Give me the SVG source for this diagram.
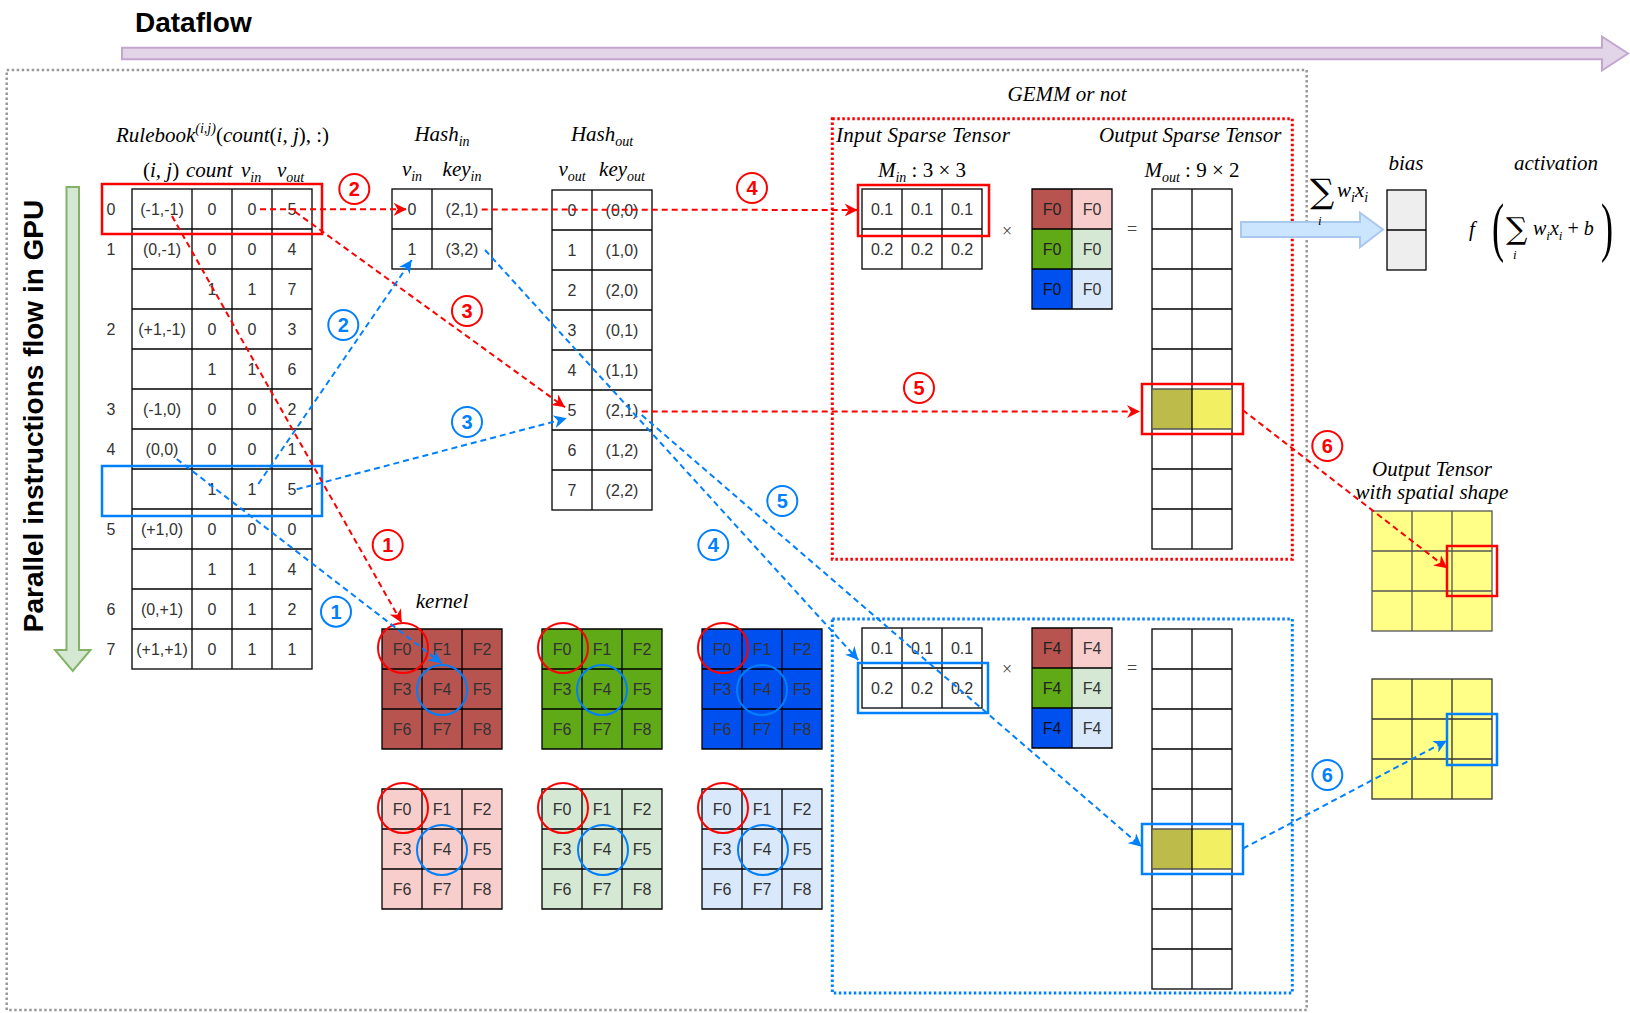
<svg xmlns="http://www.w3.org/2000/svg" width="1630" height="1013" viewBox="0 0 1630 1013">
<style>
.t{font-family:'Liberation Sans',Arial,sans-serif;font-size:16px;fill:#333;text-anchor:middle;dominant-baseline:central}
.m{font-family:'Liberation Serif','DejaVu Serif',serif;font-style:italic;font-size:21px;fill:#000}
.mc{font-family:'Liberation Serif','DejaVu Serif',serif;font-style:italic;font-size:21px;fill:#000;text-anchor:middle}
.g{fill:none;stroke:#000;stroke-width:1.3}
.rr{fill:none;stroke:#ff0000;stroke-width:2.5}
.br{fill:none;stroke:#007fff;stroke-width:2.5}
.rc{fill:none;stroke:#ff0000;stroke-width:2}
.bc{fill:none;stroke:#007fff;stroke-width:2}
.rl{fill:#fff;stroke:#ff0000;stroke-width:2}
.bl{fill:#fff;stroke:#007fff;stroke-width:2}
.rt{font-family:'Liberation Sans',Arial,sans-serif;font-weight:bold;font-size:20px;fill:#ff0000;text-anchor:middle;dominant-baseline:central}
.bt{font-family:'Liberation Sans',Arial,sans-serif;font-weight:bold;font-size:20px;fill:#007fff;text-anchor:middle;dominant-baseline:central}
.rd{fill:none;stroke:#ff0000;stroke-width:2;stroke-dasharray:6 4}
.bd{fill:none;stroke:#007fff;stroke-width:2;stroke-dasharray:6 4}
.op{font-family:'Liberation Serif','DejaVu Serif',serif;font-size:18px;fill:#444;text-anchor:middle;dominant-baseline:central}
.s{font-size:14px}
.sig{font-family:'DejaVu Serif',serif}
.mi{font-family:'Liberation Serif',serif;font-style:italic}
.mr{font-family:'Liberation Serif',serif;font-style:normal}
</style>
<defs>
<marker id="ra" viewBox="0 0 10 10" refX="10" refY="5" markerWidth="13" markerHeight="13" markerUnits="userSpaceOnUse" orient="auto"><path d="M0,0 L10,5 L0,10 L3,5 z" fill="#ff0000"/></marker>
<marker id="ba" viewBox="0 0 10 10" refX="10" refY="5" markerWidth="13" markerHeight="13" markerUnits="userSpaceOnUse" orient="auto"><path d="M0,0 L10,5 L0,10 L3,5 z" fill="#007fff"/></marker>
</defs>
<rect width="1630" height="1013" fill="#fff"/>

<g id="dataflow">
<text x="135" y="32" font-family="'Liberation Sans',Arial,sans-serif" font-weight="bold" font-size="28">Dataflow</text>
<polygon points="122,47.7 1602,47.7 1602,36.5 1628,53.5 1602,70.5 1602,59.3 122,59.3" fill="#e1d5e7" stroke="#c3a6d0" stroke-width="2"/>
</g>

<rect id="gpu-box" x="6.7" y="70" width="1300" height="940" fill="none" stroke="#999" stroke-width="2.5" stroke-dasharray="2.5 2.5"/>

<g id="parallel">
<polygon points="66.5,187 79,187 79,650 90.5,650 72.75,671 55,650 66.5,650" fill="#d5e8d4" stroke="#82b366" stroke-width="2"/>
<text transform="translate(43,416) rotate(-90)" text-anchor="middle" font-family="'Liberation Sans',Arial,sans-serif" font-weight="bold" font-size="28">Parallel instructions flow in GPU</text>
</g>

<g id="rulebook">
<text class="m" x="116" y="142">Rulebook<tspan class="s" dy="-9">(i,j)</tspan><tspan dy="9" font-style="normal">(</tspan>count<tspan font-style="normal">(</tspan>i, j<tspan font-style="normal">), :)</tspan></text>
<text class="m" x="143" y="177"><tspan font-style="normal">(</tspan>i, j<tspan font-style="normal">)</tspan></text>
<text class="m" x="186" y="177">count</text>
<text class="m" x="241" y="177">v<tspan class="s" dy="5">in</tspan></text>
<text class="m" x="277" y="177">v<tspan class="s" dy="5">out</tspan></text>
<rect class="g" x="132" y="189" width="180" height="480" fill="#fff"/>
<path class="g" d="M192,189V669M232,189V669M272,189V669M132,229H312M132,269H312M132,309H312M132,349H312M132,389H312M132,429H312M132,469H312M132,509H312M132,549H312M132,589H312M132,629H312"/>
<g class="t">
<text x="111" y="209">0</text><text x="162" y="209">(-1,-1)</text><text x="212" y="209">0</text><text x="252" y="209">0</text><text x="292" y="209">5</text>
<text x="111" y="249">1</text><text x="162" y="249">(0,-1)</text><text x="212" y="249">0</text><text x="252" y="249">0</text><text x="292" y="249">4</text>
<text x="212" y="289">1</text><text x="252" y="289">1</text><text x="292" y="289">7</text>
<text x="111" y="329">2</text><text x="162" y="329">(+1,-1)</text><text x="212" y="329">0</text><text x="252" y="329">0</text><text x="292" y="329">3</text>
<text x="212" y="369">1</text><text x="252" y="369">1</text><text x="292" y="369">6</text>
<text x="111" y="409">3</text><text x="162" y="409">(-1,0)</text><text x="212" y="409">0</text><text x="252" y="409">0</text><text x="292" y="409">2</text>
<text x="111" y="449">4</text><text x="162" y="449">(0,0)</text><text x="212" y="449">0</text><text x="252" y="449">0</text><text x="292" y="449">1</text>
<text x="212" y="489">1</text><text x="252" y="489">1</text><text x="292" y="489">5</text>
<text x="111" y="529">5</text><text x="162" y="529">(+1,0)</text><text x="212" y="529">0</text><text x="252" y="529">0</text><text x="292" y="529">0</text>
<text x="212" y="569">1</text><text x="252" y="569">1</text><text x="292" y="569">4</text>
<text x="111" y="609">6</text><text x="162" y="609">(0,+1)</text><text x="212" y="609">0</text><text x="252" y="609">1</text><text x="292" y="609">2</text>
<text x="111" y="649">7</text><text x="162" y="649">(+1,+1)</text><text x="212" y="649">0</text><text x="252" y="649">1</text><text x="292" y="649">1</text>
</g>
<rect class="rr" x="102" y="184" width="220" height="50"/>
<rect class="br" x="102" y="466" width="220" height="50"/>
</g>

<g id="hash-in">
<text class="mc" x="442" y="141">Hash<tspan class="s" dy="5">in</tspan></text>
<text class="mc" x="412" y="176">v<tspan class="s" dy="5">in</tspan></text>
<text class="mc" x="462" y="176">key<tspan class="s" dy="5">in</tspan></text>
<rect class="g" x="392" y="189" width="100" height="80" fill="#fff"/>
<path class="g" d="M432,189V269M392,229H492"/>
<g class="t"><text x="412" y="209">0</text><text x="462" y="209">(2,1)</text><text x="412" y="249">1</text><text x="462" y="249">(3,2)</text></g>
</g>

<g id="hash-out">
<text class="mc" x="602" y="141">Hash<tspan class="s" dy="5">out</tspan></text>
<text class="mc" x="572" y="176">v<tspan class="s" dy="5">out</tspan></text>
<text class="mc" x="622" y="176">key<tspan class="s" dy="5">out</tspan></text>
<rect class="g" x="552" y="190" width="100" height="320" fill="#fff"/>
<path class="g" d="M592,190V510M552,230H652M552,270H652M552,310H652M552,350H652M552,390H652M552,430H652M552,470H652"/>
<g class="t">
<text x="572" y="210">0</text><text x="622" y="210">(0,0)</text>
<text x="572" y="250">1</text><text x="622" y="250">(1,0)</text>
<text x="572" y="290">2</text><text x="622" y="290">(2,0)</text>
<text x="572" y="330">3</text><text x="622" y="330">(0,1)</text>
<text x="572" y="370">4</text><text x="622" y="370">(1,1)</text>
<text x="572" y="410">5</text><text x="622" y="410">(2,1)</text>
<text x="572" y="450">6</text><text x="622" y="450">(1,2)</text>
<text x="572" y="490">7</text><text x="622" y="490">(2,2)</text>
</g>
</g>

<g id="kernels">
<text class="mc" x="442" y="608">kernel</text>
<g id="k-red">
<rect x="382" y="629" width="120" height="120" fill="#b85450"/>
<path class="g" d="M382,629h120v120h-120zM422,629V749M462,629V749M382,669H502M382,709H502"/>
<g class="t" fill="#222"><text x="402" y="649">F0</text><text x="442" y="649">F1</text><text x="482" y="649">F2</text><text x="402" y="689">F3</text><text x="442" y="689">F4</text><text x="482" y="689">F5</text><text x="402" y="729">F6</text><text x="442" y="729">F7</text><text x="482" y="729">F8</text></g>
<circle class="rc" cx="403" cy="648" r="25"/><circle class="bc" cx="442" cy="690" r="25"/>
</g>
<g id="k-green">
<rect x="542" y="629" width="120" height="120" fill="#60a917"/>
<path class="g" d="M542,629h120v120h-120zM582,629V749M622,629V749M542,669H662M542,709H662"/>
<g class="t" fill="#222"><text x="562" y="649">F0</text><text x="602" y="649">F1</text><text x="642" y="649">F2</text><text x="562" y="689">F3</text><text x="602" y="689">F4</text><text x="642" y="689">F5</text><text x="562" y="729">F6</text><text x="602" y="729">F7</text><text x="642" y="729">F8</text></g>
<circle class="rc" cx="563" cy="648" r="25"/><circle class="bc" cx="602" cy="690" r="25"/>
</g>
<g id="k-blue">
<rect x="702" y="629" width="120" height="120" fill="#0050ef"/>
<path class="g" d="M702,629h120v120h-120zM742,629V749M782,629V749M702,669H822M702,709H822"/>
<g class="t" fill="#111"><text x="722" y="649">F0</text><text x="762" y="649">F1</text><text x="802" y="649">F2</text><text x="722" y="689">F3</text><text x="762" y="689">F4</text><text x="802" y="689">F5</text><text x="722" y="729">F6</text><text x="762" y="729">F7</text><text x="802" y="729">F8</text></g>
<circle class="rc" cx="723" cy="648" r="25"/><circle class="bc" cx="762" cy="690" r="25"/>
</g>
<g id="k-lightred">
<rect x="382" y="789" width="120" height="120" fill="#f8cecc"/>
<path class="g" d="M382,789h120v120h-120zM422,789V909M462,789V909M382,829H502M382,869H502"/>
<g class="t"><text x="402" y="809">F0</text><text x="442" y="809">F1</text><text x="482" y="809">F2</text><text x="402" y="849">F3</text><text x="442" y="849">F4</text><text x="482" y="849">F5</text><text x="402" y="889">F6</text><text x="442" y="889">F7</text><text x="482" y="889">F8</text></g>
<circle class="rc" cx="403" cy="808" r="25"/><circle class="bc" cx="442" cy="850" r="25"/>
</g>
<g id="k-lightgreen">
<rect x="542" y="789" width="120" height="120" fill="#d5e8d4"/>
<path class="g" d="M542,789h120v120h-120zM582,789V909M622,789V909M542,829H662M542,869H662"/>
<g class="t"><text x="562" y="809">F0</text><text x="602" y="809">F1</text><text x="642" y="809">F2</text><text x="562" y="849">F3</text><text x="602" y="849">F4</text><text x="642" y="849">F5</text><text x="562" y="889">F6</text><text x="602" y="889">F7</text><text x="642" y="889">F8</text></g>
<circle class="rc" cx="563" cy="808" r="25"/><circle class="bc" cx="603" cy="850" r="25"/>
</g>
<g id="k-lightblue">
<rect x="702" y="789" width="120" height="120" fill="#dae8fc"/>
<path class="g" d="M702,789h120v120h-120zM742,789V909M782,789V909M702,829H822M702,869H822"/>
<g class="t"><text x="722" y="809">F0</text><text x="762" y="809">F1</text><text x="802" y="809">F2</text><text x="722" y="849">F3</text><text x="762" y="849">F4</text><text x="802" y="849">F5</text><text x="722" y="889">F6</text><text x="762" y="889">F7</text><text x="802" y="889">F8</text></g>
<circle class="rc" cx="723" cy="808" r="25"/><circle class="bc" cx="763" cy="850" r="25"/>
</g>
</g>

<g id="gemm-top">
<text class="mc" x="1067" y="101">GEMM or not</text>
<rect x="832.3" y="118.7" width="460" height="440.6" fill="none" stroke="#ff0000" stroke-width="3" stroke-dasharray="2.5 2.5"/>
<text class="m" x="836" y="142" letter-spacing="0.3">Input Sparse Tensor</text>
<text class="m" x="1099" y="142">Output Sparse Tensor</text>
<text class="mc" x="922" y="177">M<tspan class="s" dy="5">in</tspan><tspan dy="-5" font-style="normal"> : 3 × 3</tspan></text>
<text class="mc" x="1192" y="177">M<tspan class="s" dy="5">out</tspan><tspan dy="-5" font-style="normal"> : 9 × 2</tspan></text>
<g id="min-top">
<rect class="g" x="862" y="189" width="120" height="80" fill="#fff"/>
<path class="g" d="M902,189V269M942,189V269M862,229H982"/>
<g class="t"><text x="882" y="209">0.1</text><text x="922" y="209">0.1</text><text x="962" y="209">0.1</text><text x="882" y="249">0.2</text><text x="922" y="249">0.2</text><text x="962" y="249">0.2</text></g>
<rect class="rr" x="858" y="185" width="131" height="51"/>
</g>
<text class="op" x="1007" y="231">×</text>
<g id="f-top">
<rect x="1032" y="189" width="40" height="40" fill="#b85450"/><rect x="1072" y="189" width="40" height="40" fill="#f8cecc"/>
<rect x="1032" y="229" width="40" height="40" fill="#60a917"/><rect x="1072" y="229" width="40" height="40" fill="#d5e8d4"/>
<rect x="1032" y="269" width="40" height="40" fill="#0050ef"/><rect x="1072" y="269" width="40" height="40" fill="#dae8fc"/>
<path class="g" d="M1032,189h80v120h-80zM1072,189V309M1032,229H1112M1032,269H1112"/>
<g class="t"><text x="1052" y="209" fill="#222">F0</text><text x="1092" y="209">F0</text><text x="1052" y="249" fill="#222">F0</text><text x="1092" y="249">F0</text><text x="1052" y="289" fill="#111">F0</text><text x="1092" y="289">F0</text></g>
</g>
<text class="op" x="1132" y="229">=</text>
<g id="mout-top">
<rect class="g" x="1152" y="189" width="80" height="360" fill="#fff"/>
<rect x="1152" y="389" width="40" height="40" fill="#bdbb4a"/><rect x="1192" y="389" width="40" height="40" fill="#f2f062"/>
<path d="M1152,389h80v40h-80z" fill="none" stroke="#555" stroke-width="1.3"/>
<path class="g" d="M1192,189V549M1152,229H1232M1152,269H1232M1152,309H1232M1152,349H1232M1152,469H1232M1152,509H1232"/>
<rect class="rr" x="1142" y="384" width="101" height="50"/>
</g>
</g>

<g id="gemm-bottom">
<rect x="832.3" y="619" width="460" height="374" fill="none" stroke="#007fff" stroke-width="3" stroke-dasharray="2.5 2.5"/>
<g id="min-bottom">
<rect class="g" x="862" y="628" width="120" height="80" fill="#fff"/>
<path class="g" d="M902,628V708M942,628V708M862,668H982"/>
<g class="t"><text x="882" y="648">0.1</text><text x="922" y="648">0.1</text><text x="962" y="648">0.1</text><text x="882" y="688">0.2</text><text x="922" y="688">0.2</text><text x="962" y="688">0.2</text></g>
<rect class="br" x="858" y="663" width="130" height="50"/>
</g>
<text class="op" x="1007" y="669">×</text>
<g id="f-bottom">
<rect x="1032" y="628" width="40" height="40" fill="#b85450"/><rect x="1072" y="628" width="40" height="40" fill="#f8cecc"/>
<rect x="1032" y="668" width="40" height="40" fill="#60a917"/><rect x="1072" y="668" width="40" height="40" fill="#d5e8d4"/>
<rect x="1032" y="708" width="40" height="40" fill="#0050ef"/><rect x="1072" y="708" width="40" height="40" fill="#dae8fc"/>
<path class="g" d="M1032,628h80v120h-80zM1072,628V748M1032,668H1112M1032,708H1112"/>
<g class="t"><text x="1052" y="648" fill="#222">F4</text><text x="1092" y="648">F4</text><text x="1052" y="688" fill="#222">F4</text><text x="1092" y="688">F4</text><text x="1052" y="728" fill="#111">F4</text><text x="1092" y="728">F4</text></g>
</g>
<text class="op" x="1132" y="668">=</text>
<g id="mout-bottom">
<rect class="g" x="1152" y="629" width="80" height="360" fill="#fff"/>
<rect x="1152" y="829" width="40" height="40" fill="#bdbb4a"/><rect x="1192" y="829" width="40" height="40" fill="#f2f062"/>
<path d="M1152,829h80v40h-80z" fill="none" stroke="#555" stroke-width="1.3"/>
<path class="g" d="M1192,629V989M1152,669H1232M1152,709H1232M1152,749H1232M1152,789H1232M1152,909H1232M1152,949H1232"/>
<rect class="br" x="1142" y="824" width="101" height="50"/>
</g>
</g>

<g id="sum-arrow">
<polygon points="1241,222 1360,222 1360,212.7 1383,229.5 1360,247.3 1360,237 1241,237" fill="#cce5ff" stroke="#a9c8ef" stroke-width="2"/>
<text class="sig" x="1310" y="203" font-size="34">∑<tspan class="mi" font-size="13" x="1318" y="225">i</tspan><tspan class="mi" font-size="21" x="1337" y="197">w</tspan><tspan class="mi" font-size="14" dy="5">i</tspan><tspan class="mi" font-size="21" dy="-5">x</tspan><tspan class="mi" font-size="14" dy="5">i</tspan></text>
</g>

<g id="bias">
<text class="mc" x="1406" y="170">bias</text>
<rect x="1387" y="190" width="39" height="80" fill="#eeeeee" stroke="#000" stroke-width="1.3"/>
<path class="g" d="M1387,230H1426"/>
</g>

<g id="activation">
<text class="mc" x="1556" y="170">activation</text>
<text class="m" x="1469" y="236">f</text>
<text transform="translate(1492,249) scale(0.55,1)" font-family="'Liberation Serif',serif" font-size="66">(</text>
<text class="sig" x="1506" y="239" font-size="30">∑<tspan class="mi" font-size="13" x="1513" y="259">i</tspan><tspan class="mi" font-size="20" x="1533" y="235">w</tspan><tspan class="mi" font-size="13" dy="5">i</tspan><tspan class="mi" font-size="20" dy="-5">x</tspan><tspan class="mi" font-size="13" dy="5">i</tspan><tspan class="mr" font-size="20" dy="-5"> + </tspan><tspan class="mi" font-size="20">b</tspan></text>
<text transform="translate(1601,249) scale(0.55,1)" font-family="'Liberation Serif',serif" font-size="66">)</text>
</g>

<g id="output-tensor">
<text class="mc" x="1432" y="476">Output Tensor</text>
<text class="mc" x="1432" y="499">with spatial shape</text>
<rect x="1372" y="511" width="120" height="120" fill="#ffff88" stroke="#555" stroke-width="1.3"/>
<path d="M1412,511V631M1452,511V631M1372,551H1492M1372,591H1492" fill="none" stroke="#555" stroke-width="1.3"/>
<rect class="rr" x="1447" y="546" width="50" height="50"/>
<rect x="1372" y="679" width="120" height="120" fill="#ffff88" stroke="#333" stroke-width="1.3"/>
<path d="M1412,679V799M1452,679V799M1372,719H1492M1372,759H1492" fill="none" stroke="#333" stroke-width="1.3"/>
<rect class="br" x="1447" y="714" width="50" height="51"/>
</g>

<g id="connectors">
<line class="rd" x1="172" y1="216" x2="401.7" y2="622.7" marker-end="url(#ra)"/>
<line class="rd" x1="260" y1="209.3" x2="406.7" y2="209.3" marker-end="url(#ra)"/>
<line class="rd" x1="295" y1="211.7" x2="565" y2="407.3" marker-end="url(#ra)"/>
<line class="rd" x1="481.7" y1="209.5" x2="857.7" y2="210" marker-end="url(#ra)"/>
<line class="rd" x1="641.7" y1="411.5" x2="1140" y2="411.5" marker-end="url(#ra)"/>
<line class="rd" x1="1242.7" y1="410" x2="1447.3" y2="568.3" marker-end="url(#ra)"/>
<line class="bd" x1="176.7" y1="459" x2="441.7" y2="663.3" marker-end="url(#ba)"/>
<line class="bd" x1="258.3" y1="484" x2="411.7" y2="260" marker-end="url(#ba)"/>
<line class="bd" x1="296.7" y1="489.3" x2="566.7" y2="418.3" marker-end="url(#ba)"/>
<line class="bd" x1="485" y1="250" x2="858.3" y2="660" marker-end="url(#ba)"/>
<line class="bd" x1="641.7" y1="415" x2="1141.7" y2="846.7" marker-end="url(#ba)"/>
<line class="bd" x1="1243" y1="848.5" x2="1446.7" y2="740.7" marker-end="url(#ba)"/>
</g>

<g id="step-labels">
<circle class="rl" cx="387.7" cy="545" r="15"/><text class="rt" x="387.7" y="545">1</text>
<circle class="rl" cx="354.3" cy="189" r="15"/><text class="rt" x="354.3" y="189">2</text>
<circle class="rl" cx="467" cy="311" r="15"/><text class="rt" x="467" y="311">3</text>
<circle class="rl" cx="752" cy="188" r="15"/><text class="rt" x="752" y="188">4</text>
<circle class="rl" cx="919" cy="388" r="15"/><text class="rt" x="919" y="388">5</text>
<circle class="rl" cx="1327.3" cy="446" r="15"/><text class="rt" x="1327.3" y="446">6</text>
<circle class="bl" cx="336" cy="611.7" r="15"/><text class="bt" x="336" y="611.7">1</text>
<circle class="bl" cx="343.3" cy="325" r="15"/><text class="bt" x="343.3" y="325">2</text>
<circle class="bl" cx="467" cy="422" r="15"/><text class="bt" x="467" y="422">3</text>
<circle class="bl" cx="713.3" cy="545" r="15"/><text class="bt" x="713.3" y="545">4</text>
<circle class="bl" cx="782.3" cy="501" r="15"/><text class="bt" x="782.3" y="501">5</text>
<circle class="bl" cx="1327.3" cy="775" r="15"/><text class="bt" x="1327.3" y="775">6</text>
</g>
</svg>
